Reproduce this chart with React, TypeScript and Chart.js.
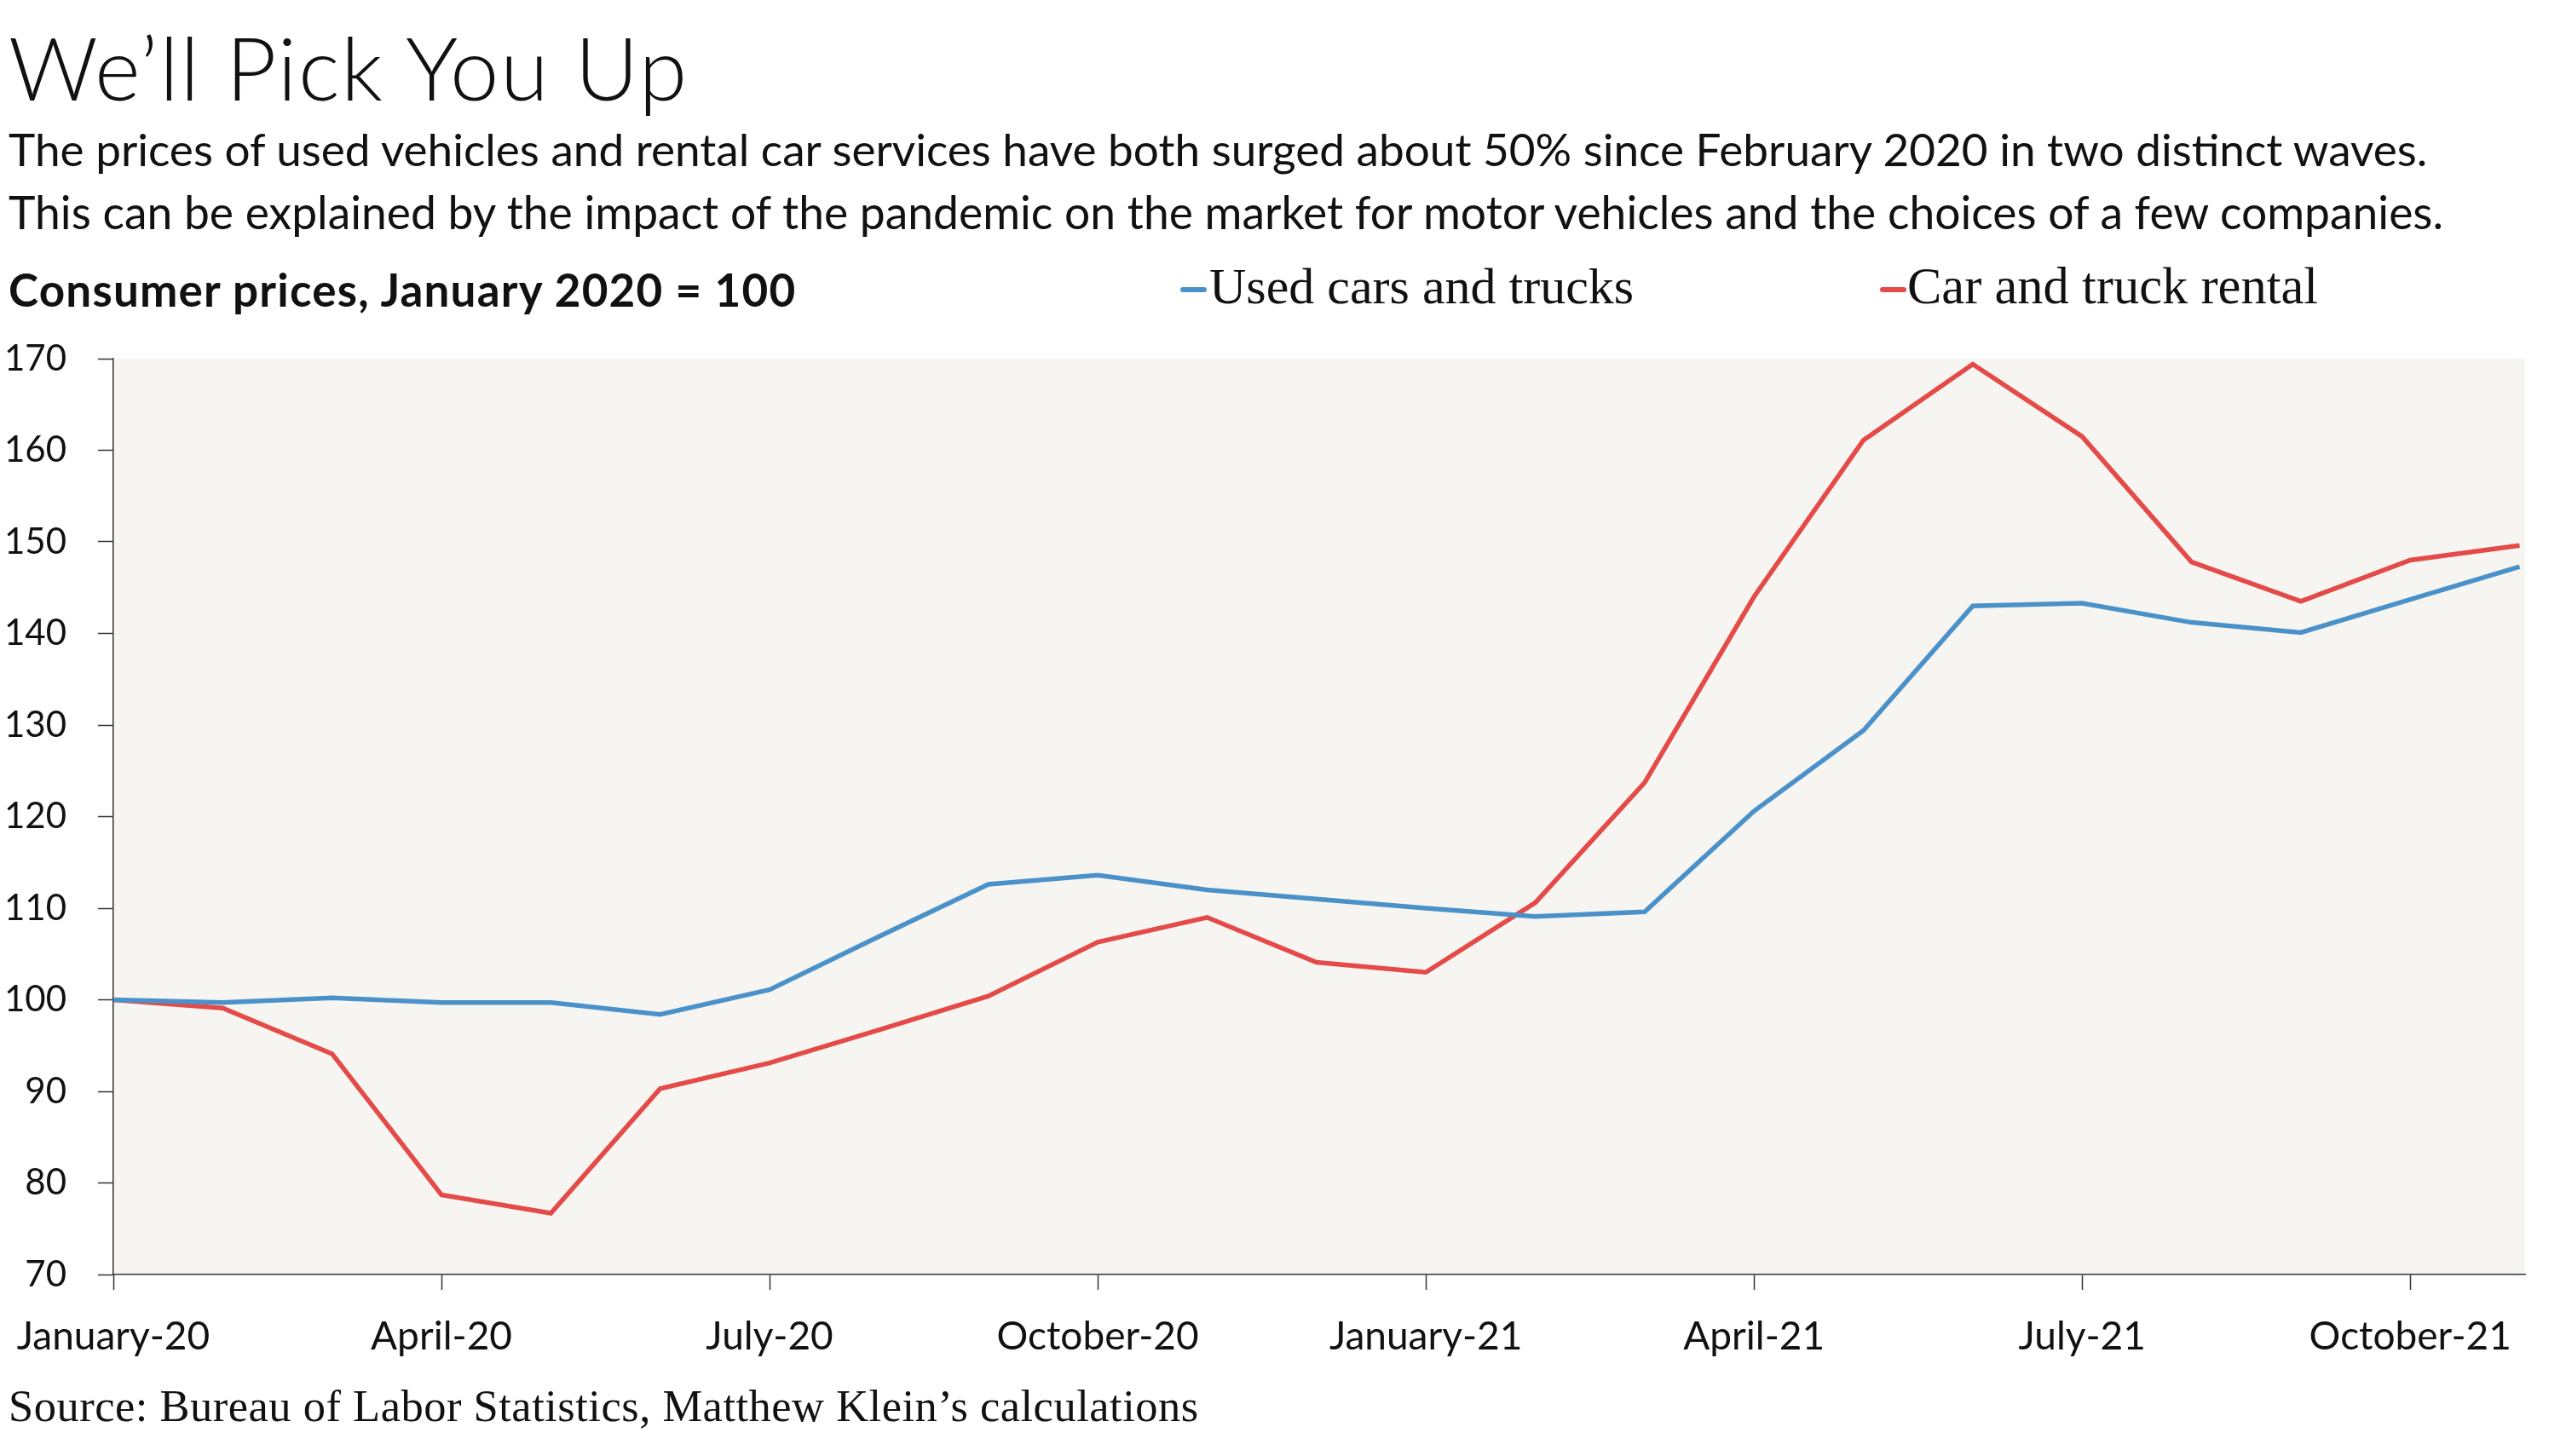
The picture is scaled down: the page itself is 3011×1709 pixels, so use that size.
import React, { useEffect, useRef } from "react";
import { Chart, registerables } from "chart.js";

Chart.register(...registerables);

// Monthly data, January 2020 .. November 2021 (index 0..22)
const months = [
  "2020-01", "2020-02", "2020-03", "2020-04", "2020-05", "2020-06",
  "2020-07", "2020-08", "2020-09", "2020-10", "2020-11", "2020-12",
  "2021-01", "2021-02", "2021-03", "2021-04", "2021-05", "2021-06",
  "2021-07", "2021-08", "2021-09", "2021-10", "2021-11",
];

const usedCars = [
  100, 99.7, 100.2, 99.7, 99.7, 98.4, 101.1, 106.9, 112.6, 113.6, 112.0, 111.0,
  110.0, 109.1, 109.6, 120.6, 129.4, 143.0, 143.3, 141.2, 140.1, 143.7, 147.3,
];

const carRental = [
  100, 99.1, 94.1, 78.7, 76.7, 90.3, 93.1, 96.7, 100.4, 106.3, 109.0, 104.1,
  103.0, 110.6, 123.7, 144.0, 161.1, 169.4, 161.5, 147.8, 143.5, 148.0, 149.6,
];

const tickMonths = [0, 3, 6, 9, 12, 15, 18, 21];
const tickLabels = [
  "January-20", "April-20", "July-20", "October-20",
  "January-21", "April-21", "July-21", "October-21",
];

const yMin = 70;
const yMax = 170;
const yStep = 10;

const BLUE = "#4A91C9";
const RED = "#E44A48";
const AXIS = "#333333";

const bgPlugin = {
  id: "plotBg",
  beforeDraw(chart: any) {
    const { ctx, chartArea } = chart;
    if (!chartArea) return;
    ctx.save();
    ctx.fillStyle = "#F6F5F1";
    ctx.fillRect(
      chartArea.left,
      chartArea.top,
      chartArea.right - chartArea.left,
      chartArea.bottom - chartArea.top
    );
    ctx.restore();
  },
};

const sans = "Lato, 'Open Sans', sans-serif";
const serif = "'Liberation Serif', 'DejaVu Serif', serif";

export default function App() {
  const canvasRef = useRef<HTMLCanvasElement | null>(null);

  useEffect(() => {
    const canvas = canvasRef.current;
    if (!canvas) return;
    const chart = new Chart(canvas, {
      type: "line",
      data: {
        datasets: [
          {
            label: "Used cars and trucks",
            data: usedCars.map((v, i) => ({ x: i, y: v })),
            borderColor: BLUE,
            backgroundColor: BLUE,
            borderWidth: 5.5,
            pointRadius: 0,
            tension: 0,
          },
          {
            label: "Car and truck rental",
            data: carRental.map((v, i) => ({ x: i, y: v })),
            borderColor: RED,
            backgroundColor: RED,
            borderWidth: 5.5,
            pointRadius: 0,
            tension: 0,
          },
        ],
      },
      options: {
        animation: false,
        responsive: false,
        maintainAspectRatio: false,
        devicePixelRatio: 1,
        layout: { padding: { top: 41, right: 48, left: 0, bottom: 0 } },
        plugins: {
          legend: { display: false },
          tooltip: { enabled: false },
          title: { display: false },
        },
        scales: {
          x: {
            type: "linear",
            min: 0,
            max: months.length - 1 + 0.05,
            afterBuildTicks: (scale: any) => {
              scale.ticks = tickMonths.map((v) => ({ value: v }));
            },
            afterFit: (scale: any) => {
              scale.height = 110;
              scale.paddingLeft = 0;
              scale.paddingRight = 0;
            },
            ticks: {
              autoSkip: false,
              maxRotation: 0,
              minRotation: 0,
              padding: 28,
              color: "#111111",
              font: { family: sans, size: 46 },
              callback: (v: any) => {
                const idx = tickMonths.indexOf(Number(v));
                return idx >= 0 ? tickLabels[idx] : "";
              },
            },
            grid: {
              drawOnChartArea: false,
              drawTicks: true,
              tickLength: 18,
              tickColor: AXIS,
              tickWidth: 1.5,
            },
            border: { display: true, color: AXIS, width: 1.5 },
          },
          y: {
            type: "linear",
            min: yMin,
            max: yMax,
            afterFit: (scale: any) => {
              scale.width = 133;
              scale.paddingTop = 0;
              scale.paddingBottom = 0;
            },
            ticks: {
              stepSize: yStep,
              padding: 37,
              color: "#111111",
              font: { family: sans, size: 42 },
            },
            grid: {
              drawOnChartArea: false,
              drawTicks: true,
              tickLength: 18,
              tickColor: AXIS,
              tickWidth: 1.5,
            },
            border: { display: true, color: AXIS, width: 1.5 },
          },
        },
      },
      plugins: [bgPlugin],
    } as any);
    return () => chart.destroy();
  }, []);

  const abs = (top: number, left: number, extra: React.CSSProperties = {}): React.CSSProperties => ({
    position: "absolute",
    top,
    left,
    whiteSpace: "nowrap",
    lineHeight: 1,
    margin: 0,
    ...extra,
  });

  return (
    <div style={{ position: "absolute", left: 0, top: 0, width: 3011, height: 1709, background: "#ffffff", overflow: "hidden" }}>
      <div style={abs(27, 10, { fontFamily: sans, fontWeight: 300, fontSize: 103, letterSpacing: 1.5, color: "#111" })}>
        We’ll Pick You Up
      </div>
      <div style={abs(148, 10, { fontFamily: sans, fontWeight: 400, fontSize: 53.1, color: "#111" })}>
        The prices of used vehicles and rental car services have both surged about 50% since February 2020 in two distinct waves.
      </div>
      <div style={abs(222, 10, { fontFamily: sans, fontWeight: 400, fontSize: 53.4, color: "#111" })}>
        This can be explained by the impact of the pandemic on the market for motor vehicles and the choices of a few companies.
      </div>
      <div style={abs(313, 10, { fontFamily: sans, fontWeight: 700, fontSize: 53, letterSpacing: 1.2, color: "#111" })}>
        Consumer prices, January 2020 = 100
      </div>
      <div style={abs(337, 1385, { width: 31, height: 6, borderRadius: 3, background: BLUE })} />
      <div style={abs(306, 1419, { fontFamily: serif, fontSize: 60, color: "#111" })}>
        Used cars and trucks
      </div>
      <div style={abs(337, 2206, { width: 31, height: 6, borderRadius: 3, background: RED })} />
      <div style={abs(306, 2238, { fontFamily: serif, fontSize: 60.5, color: "#111" })}>
        Car and truck rental
      </div>
      <canvas
        ref={canvasRef}
        width={3011}
        height={1226}
        style={{ position: "absolute", left: 0, top: 380, width: 3011, height: 1226 }}
      />
      <div style={abs(1624, 10, { fontFamily: serif, fontSize: 52.5, letterSpacing: 0.5, color: "#111" })}>
        Source: Bureau of Labor Statistics, Matthew Klein’s calculations
      </div>
    </div>
  );
}
